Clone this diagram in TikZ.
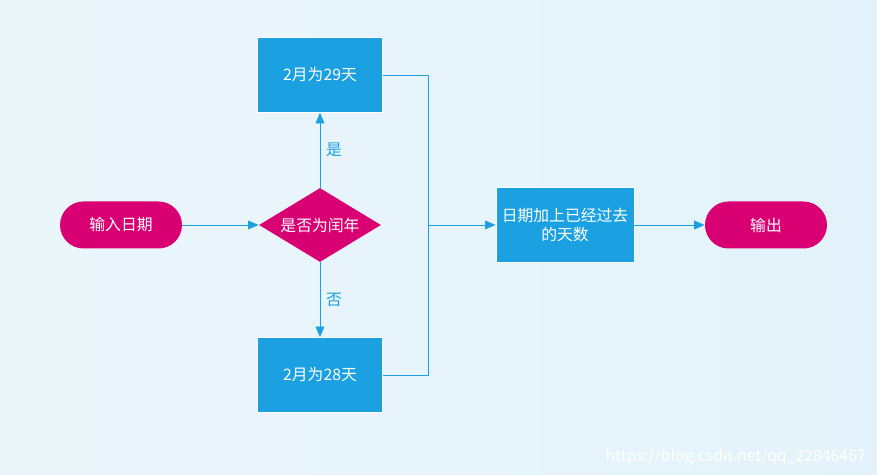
\documentclass[tikz,border=0pt]{standalone}
\usepackage{fontspec}
\setmainfont{Noto Sans CJK SC}
\usetikzlibrary{positioning, calc, arrows.meta, shapes.geometric}
\definecolor{boxblue}{HTML}{1BA1E2}
\definecolor{pink}{HTML}{D80073}
\definecolor{bgblue}{HTML}{E3F2FA}
\begin{document}
\begin{tikzpicture}[x=0.02cm, y=-0.02cm,
		term/.style={rectangle, rounded corners=0.47cm, fill=pink, text=white, minimum width=2.44cm, minimum height=0.94cm, font=\small},
		proc/.style={rectangle, fill=boxblue, draw=white, text=white, minimum width=2.5cm, minimum height=1.5cm, align=center, font=\small},
		decision/.style={diamond, aspect=1.65, fill=pink, text=white, inner sep=1pt, minimum width=2.44cm, minimum height=1.48cm, font=\small},
		arrow/.style={-{Triangle[length=6pt, width=5pt]}, draw=boxblue, thin},
		line/.style={draw=boxblue, thin}]
	\fill[left color=bgblue!70!white, right color=bgblue] (0,0) rectangle (877,475);
	\node[term] (in) at (121,225) {输入日期};
	\node[decision] (leap) at (320,225) {是否为闰年};
	\node[proc] (feb29) at (320,75) {2月为29天};
	\node[proc] (feb28) at (320,375) {2月为28天};
	\node[proc] (sum) at (565,225) {日期加上已经过去\\的天数};
	\node[term] (out) at (766,225) {输出};
	\coordinate (join) at (428,225);

	\draw[arrow] (in) -- (leap);
	\draw[arrow] (leap) -- node[right, text=boxblue, font=\small] {是} (feb29);
	\draw[arrow] (leap) -- node[right, text=boxblue, font=\small] {否} (feb28);
	\draw[line] (feb29.east) -| (join);
	\draw[line] (feb28.east) -| (join);
	\draw[arrow] (join) -- (sum);
	\draw[arrow] (sum) -- (out);
	\node[text=white, font=\small, anchor=east] (mark) at (872,457) {https://blog.csdn.net/qq\_22846467};
\end{tikzpicture}
\end{document}
